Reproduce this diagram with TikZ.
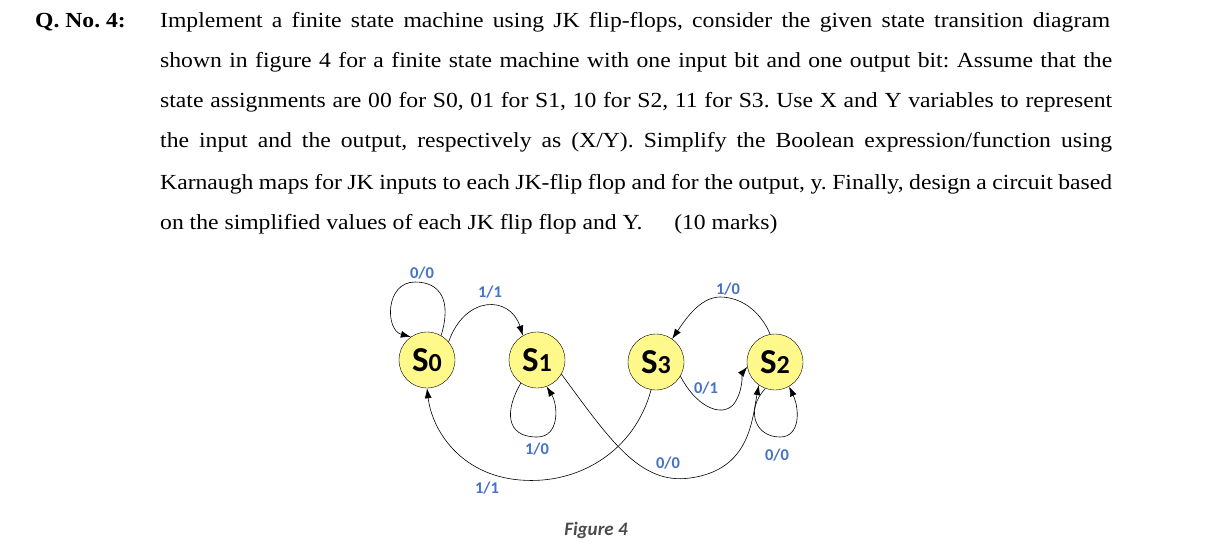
\documentclass[tikz,border=0pt]{standalone}
\usepackage{fontspec}
\usetikzlibrary{arrows.meta}
\setmainfont{Liberation Serif}[FakeStretch=1.1]
\newfontfamily\lblfont{Carlito}
\definecolor{lblue}{HTML}{4472C4}
\begin{document}
\frenchspacing
\begin{tikzpicture}[x=1pt,y=-1pt,
  st/.style={circle,draw=black,fill=yellow!45,minimum size=56pt,inner sep=0pt,font=\lblfont\bfseries\fontsize{35}{36}\selectfont},
  lb/.style={font=\lblfont\bfseries\fontsize{16.5}{17}\selectfont,text=lblue},
  ed/.style={draw=black,line width=0.6pt,-{Latex[length=10pt,width=7pt]}},
  tl/.style={anchor=base west,inner sep=0pt,font=\fontsize{21.5}{22}\selectfont}]
\useasboundingbox (0,0) rectangle (1221,547);
\node[tl,font=\bfseries\fontsize{21.5}{22}\selectfont] (q) at (35,27) {Q. No. 4:};
\node[tl] (l1) at (160,27) {\hbox to 950pt{Implement a finite state machine using JK flip-flops, consider the given state transition diagram}};
\node[tl] (l2) at (160,67) {\hbox to 952pt{shown in figure 4 for a finite state machine with one input bit and one output bit: Assume that the}};
\node[tl] (l3) at (160,107) {\hbox to 952pt{state assignments are 00 for S0, 01 for S1, 10 for S2, 11 for S3. Use X and Y variables to represent}};
\node[tl] (l4) at (160,147) {\hbox to 952pt{the input and the output, respectively as (X/Y). Simplify the Boolean expression/function using}};
\node[tl] (l5) at (160,189) {\hbox to 952pt{Karnaugh maps for JK inputs to each JK-flip flop and for the output, y. Finally, design a circuit based}};
\node[tl] (l6) at (160,229) {on the simplified values of each JK flip flop and Y.\hspace{1.2em} (10 marks)};

\node[st] (s0) at (427,360) {S{\fontsize{26}{26}\selectfont 0}};
\node[st] (s1) at (537,360) {S{\fontsize{26}{26}\selectfont 1}};
\node[st] (s3) at (656,362) {S{\fontsize{26}{26}\selectfont 3}};
\node[st] (s2) at (775,362) {S{\fontsize{26}{26}\selectfont 2}};

\draw[ed] (s0.60) .. controls (452,300) and (440,282) .. (415,282) .. controls (385,282) and (385,330) .. (s0.125);
\draw[ed] (s0.40) .. controls (465,295) and (510,295) .. (s1.120);
\draw[ed] (s1.235) .. controls (505,410) and (505,437) .. (537,437) .. controls (560,437) and (558,405) .. (s1.290);
\draw[ed] (s1.330) .. controls (610,440) and (640,485) .. (690,478) .. controls (750,470) and (752,420) .. (s2.235);
\draw[ed] (s3.260) .. controls (635,450) and (580,485) .. (520,480) .. controls (460,475) and (432,430) .. (s0.270);
\draw[ed] (s3.330) .. controls (695,405) and (720,418) .. (733,405) .. controls (743,393) and (743,372) .. (s2.190);
\draw[ed] (s2.100) .. controls (760,310) and (740,297) .. (720,297) .. controls (700,297) and (685,320) .. (s3.55);
\draw[ed] (s2.250) .. controls (745,410) and (755,437) .. (780,437) .. controls (800,437) and (800,410) .. (s2.300);

\node[lb] (a) at (422,273) {0/0};
\node[lb] (b) at (490,292) {1/1};
\node[lb] (c) at (537,449) {1/0};
\node[lb] (d) at (668,463) {0/0};
\node[lb] (e) at (487,488) {1/1};
\node[lb] (f) at (706,388) {0/1};
\node[lb] (g) at (728,289) {1/0};
\node[lb] (h) at (777,455) {0/0};
\node[font=\lblfont\bfseries\itshape\fontsize{19}{19}\selectfont,text=black!70] (fig) at (596,530) {Figure 4};
\end{tikzpicture}
\end{document}
